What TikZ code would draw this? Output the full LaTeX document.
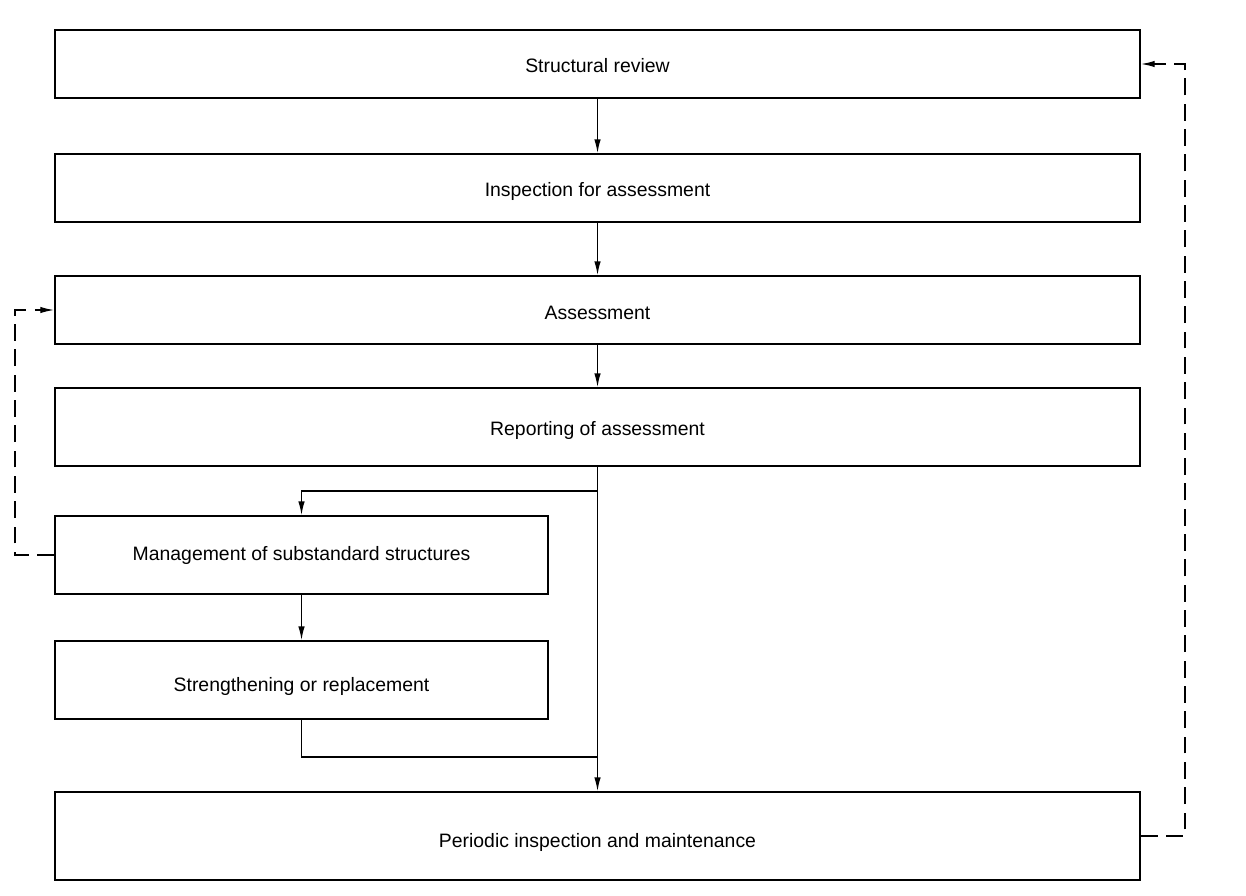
\documentclass[tikz,border=0pt]{standalone}
\usepackage{fontspec}
\setmainfont{Liberation Sans}
\usetikzlibrary{positioning,arrows.meta}

% text set with its capitals centred, lowered by #1 pt
\newcommand{\boxtext}[2][0]{\raisebox{\dimexpr-4.9pt-#1pt\relax}[0pt][0pt]{#2}}

\begin{document}
\begin{tikzpicture}[
x=0.025cm, y=-0.025cm,
>={Latex[length=3.4mm,width=1.6mm]},
widebox/.style={rectangle, draw, line width=1.3pt, minimum width=27.125cm, minimum height=1.7cm, inner sep=0pt, font=\fontsize{13.8}{16}\selectfont},
narrowbox/.style={widebox, minimum width=12.325cm, minimum height=1.95cm},
flow/.style={line width=0.9pt},
loopback/.style={flow, dash pattern=on 12pt off 6pt},
]
\useasboundingbox (0,0) rectangle (1246,895);

%Nodes
\node[widebox]   (review)        at (597.5,64)  {\boxtext[1]{Structural review}};
\node[widebox]   (inspection)    at (597.5,188) {\boxtext[1.4]{Inspection for assessment}};
\node[widebox]   (assessment)    at (597.5,310) {\boxtext[2]{Assessment}};
\node[widebox, minimum height=1.95cm] (reporting) at (597.5,427) {\boxtext[1.4]{Reporting of assessment}};
\node[narrowbox] (management)    at (301.5,555) {\boxtext[-1]{Management of substandard structures}};
\node[narrowbox] (strengthening) at (301.5,680) {\boxtext[3.5]{Strengthening or replacement}};
\node[widebox, minimum height=2.2cm] (periodic) at (597.5,836) {\boxtext[3.5]{Periodic inspection and maintenance}};
\coordinate (split)  at (597.5,491);
\coordinate (rejoin) at (597.5,757);

%Lines
\draw[flow,->] (review.south) -- (inspection.north);
\draw[flow,->] (inspection.south) -- (assessment.north);
\draw[flow,->] (assessment.south) -- (reporting.north);
\draw[flow,->] (reporting.south) -- (periodic.north);
\draw[flow,->] (split) -| (management.north);
\draw[flow,->] (management.south) -- (strengthening.north);
\draw[flow] (strengthening.south) |- (rejoin);

%Dashed loops
\draw[loopback,->] (periodic.east) -- ++(44,0) |- (review.east);
\draw[loopback,->] (management.west) -- ++(-39,0) |- (assessment.west);
\end{tikzpicture}
\end{document}
